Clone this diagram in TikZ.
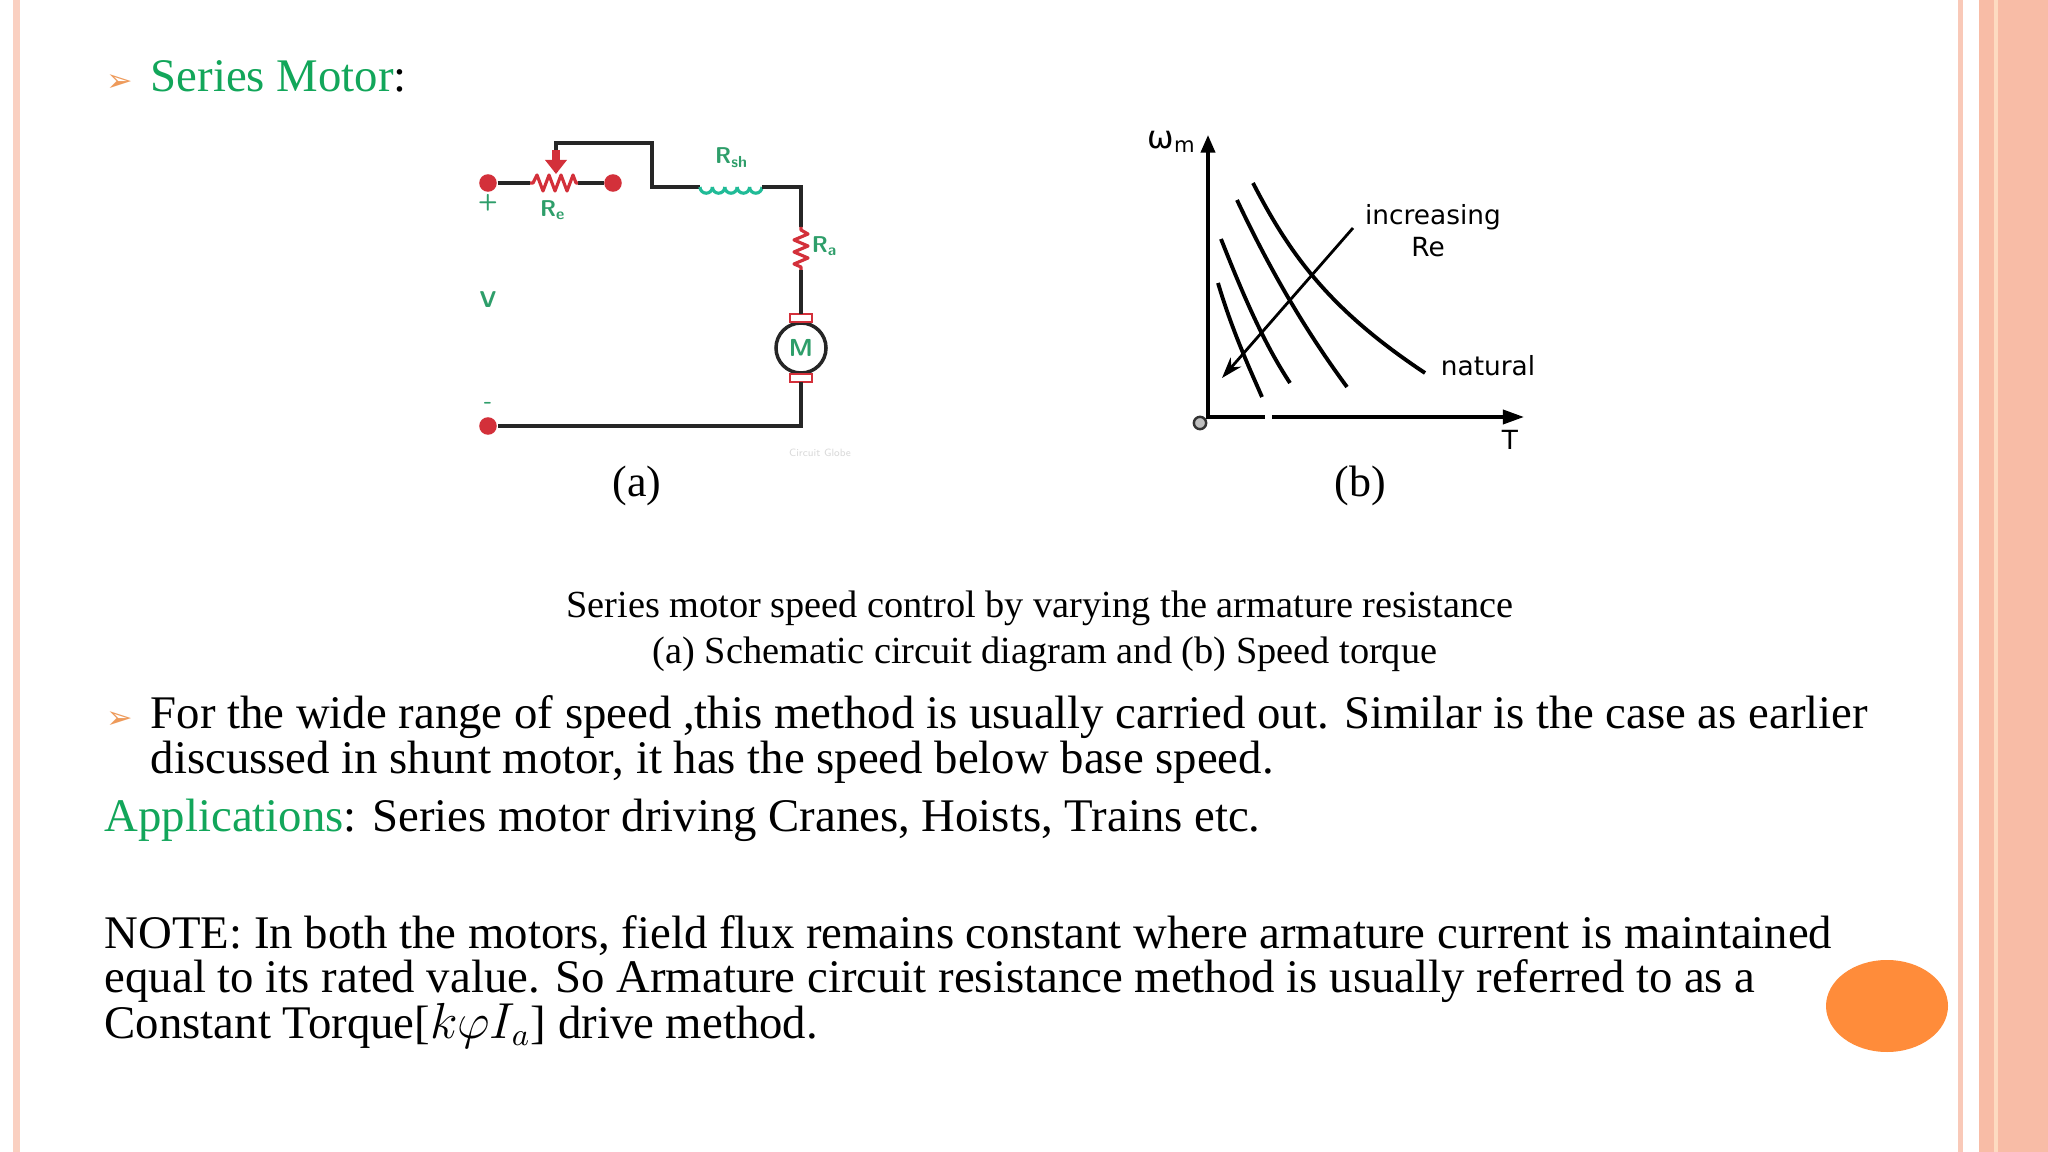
\documentclass[tikz,border=0pt]{standalone}
\usepackage{fontspec}
\setmainfont{Liberation Serif}
\newfontfamily\gfont{DejaVu Sans}
\usetikzlibrary{arrows.meta}
\definecolor{grn}{HTML}{12A65A}
\definecolor{cgrn}{HTML}{2E9E6A}
\definecolor{cred}{HTML}{D3303A}
\definecolor{bul}{HTML}{EE9A5A}
\definecolor{pinkb}{HTML}{F8BCA6}
\definecolor{orng}{HTML}{FF8C3A}
\tikzset{
 body/.style={anchor=base west,font=\fontsize{13.3}{15}\selectfont,inner sep=0},
 captxt/.style={anchor=base,font=\fontsize{10.9}{12}\selectfont,inner sep=0},
 wire/.style={line width=0.9pt,black!85},
 res/.style={cred,line width=0.9pt,line join=round},
 dot/.style={circle,fill=cred,inner sep=0,minimum size=5pt},
 clab/.style={text=cgrn,font=\sffamily\bfseries\fontsize{6.5}{7}\selectfont,inner sep=0},
 glab/.style={font=\gfont\fontsize{7.5}{9}\selectfont,inner sep=0},
 curve/.style={line width=1.1pt},
 bull/.style={text=bul,font=\gfont\fontsize{9}{10}\selectfont,inner sep=0,anchor=base west}
}
\begin{document}
\begin{tikzpicture}[x=0.01cm,y=-0.01cm]
\useasboundingbox (0,0) rectangle (2048,1152);
\fill[white] (0,0) rectangle (2048,1152);
% borders
\fill[pinkb!70] (13,0) rectangle (20,1152);
\fill[pinkb!80] (1958,0) rectangle (1963,1152);
\fill[pinkb] (1979,0) rectangle (2048,1152);
\fill[pinkb!60!orange!40] (1994,0) rectangle (1998,1152);
\fill[orng] (1887,1006) ellipse (61 and 46);
% title
\node[bull] (b1) at (106,92) {➢};
\node[body] (t1) at (150,92) {\textcolor{grn}{Series Motor}:};
% circuit
\node[dot] (p) at (488,183) {};
\node[dot] (r) at (613,183) {};
\node[dot] (n) at (488,426) {};
\coordinate (re1) at (530,183); \coordinate (re2) at (578,183);
\draw[wire] (p) -- (re1) (re2) -- (r);
\draw[res] (re1) -- (533,183) -- (537,175) -- (543,191) -- (549,175) -- (555,191) -- (561,175) -- (567,191) -- (573,175) -- (576,183) -- (re2);
\draw[wire] (556,172) -- (556,143) -- (652,143) -- (652,187) -- (700,187);
\draw[cred,line width=2.2pt,-{Triangle[length=4pt,width=6pt]}] (556,150) -- (556,174);
\foreach \i in {0,...,4}{\draw[cgrn!70!cyan,line width=0.9pt] (700+\i*12.4,187) arc (180:0:6.2);}
\draw[wire] (762,187) -- (801,187) -- (801,227);
\draw[res] (801,227) -- (801,230) -- (808,234) -- (794,240) -- (808,246) -- (794,252) -- (808,258) -- (794,264) -- (801,267) -- (801,270);
\node[draw=black!85,line width=1pt,circle,inner sep=0,minimum width=0.5cm] (m) at (801,348) {\textcolor{cgrn}{\sffamily\bfseries\fontsize{7}{8}\selectfont M}};
\draw[cred,line width=0.5pt] (790,314) rectangle (812,322) (790,374) rectangle (812,382);
\draw[wire] (801,270) -- (801,314) (801,382) -- (801,426) -- (n);
\node[clab] (lre) at (553,210) {R\textsubscript{e}};
\node[clab] (lrsh) at (732,158) {R\textsubscript{sh}};
\node[clab] (lra) at (825,246) {R\textsubscript{a}};
\node[clab] (lp) at (488,203) {+};
\node[clab] (lv) at (488,300) {V};
\node[clab] (lm) at (488,405) {-};
\node[text=black!15,font=\sffamily\fontsize{3}{4}\selectfont] (wm) at (820,453) {Circuit Globe};
% graph
\draw[line width=1pt,-{Triangle[length=5pt,width=4pt]}] (1208,419) -- (1208,135);
\draw[line width=1pt] (1210,417) -- (1265,417);
\draw[line width=1pt,-{Triangle[length=6pt,width=4pt]}] (1272,417) -- (1524,417);
\node[draw=black!80,fill=black!25,circle,inner sep=0,minimum size=3.5pt,line width=0.7pt] (oc) at (1200,423) {};
\node[glab,font=\gfont\fontsize{9}{10}\selectfont] (wml) at (1172,142) {ω\textsubscript{m}};
\node[glab] (tl) at (1510,440) {T};
\draw[curve] (1253,183) .. controls (1290,255) and (1330,310) .. (1425,373);
\draw[curve] (1237,200) .. controls (1270,270) and (1305,330) .. (1347,387);
\draw[curve] (1221,239) .. controls (1245,300) and (1265,345) .. (1290,383);
\draw[curve] (1218,283) .. controls (1232,330) and (1248,365) .. (1262,397);
\coordinate (as) at (1353,228); \coordinate (ae) at (1222,378);
\draw[line width=0.8pt,-{Stealth[length=6pt,width=4pt]}] (as) -- (ae);
\node[glab] (inc) at (1433,217) {increasing};
\node[glab] (rel) at (1428,247) {Re};
\node[glab] (nat) at (1488,366) {natural};
% (a) (b)
\node[captxt,font=\fontsize{12.5}{14}\selectfont] (la) at (637,497) {(a)};
\node[captxt,font=\fontsize{12.5}{14}\selectfont] (lb) at (1360,497) {(b)};
% caption
\node[captxt] (c1) at (1040,617) {Series motor speed control by varying the armature resistance};
\node[captxt] (c2) at (1045,663) {(a) Schematic circuit diagram and (b) Speed torque};
% body text
\node[bull] (b2) at (106,728) {➢};
\node[body] (l1) at (150,728) {For the wide range of speed ,this method is usually carried out. Similar is the case as earlier};
\node[body] (l2) at (150,773) {discussed in shunt motor, it has the speed below base speed.};
\node[body] (l3) at (104,831) {\textcolor{grn}{Applications}: Series motor driving Cranes, Hoists, Trains etc.};
\node[body] (l4) at (104,948) {NOTE: In both the motors, field flux remains constant where armature current is maintained};
\node[body] (l5) at (104,992) {equal to its rated value. So Armature circuit resistance method is usually referred to as a};
\node[body] (l6) at (104,1038) {Constant Torque[$k\varphi I_a$] drive method.};
\end{tikzpicture}
\end{document}
